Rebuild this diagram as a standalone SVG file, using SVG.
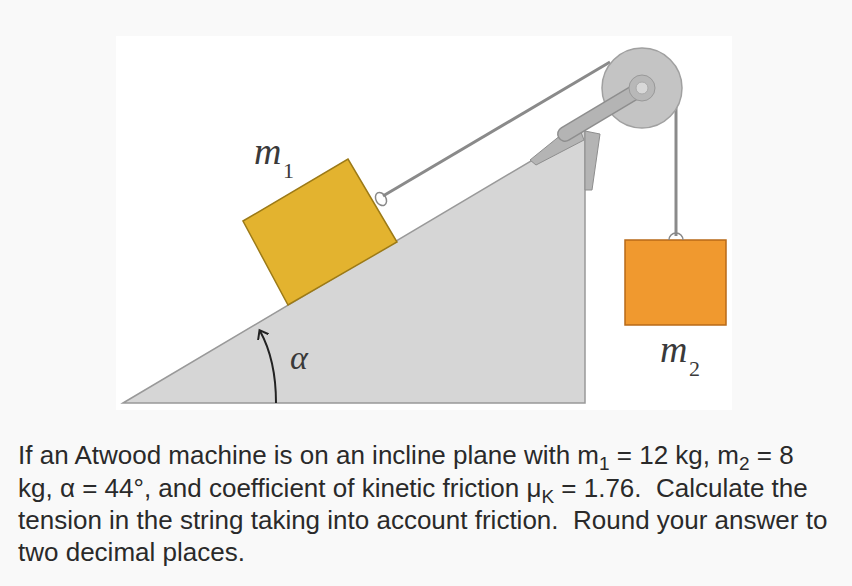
<svg xmlns="http://www.w3.org/2000/svg" width="852" height="586" viewBox="0 0 852 586">
<style>
.t{font-family:"Liberation Sans",Arial,sans-serif;font-size:26px;fill:#2a2a2a;white-space:pre}
.lab{font-family:"Liberation Serif","Times New Roman",serif;font-style:italic;fill:#3a3a3a}
.sub{font-family:"Liberation Serif","Times New Roman",serif;fill:#3a3a3a;font-size:22px}
.g{fill:#b4b4b4;stroke:#8e8e8e;stroke-width:1}
</style>
<defs><marker id="ah" markerWidth="14" markerHeight="14" refX="7" refY="7" orient="auto" markerUnits="userSpaceOnUse"><path d="M0,1 L8,7 L0,13" fill="none" stroke="#222" stroke-width="2"/></marker></defs>
<rect width="852" height="586" fill="#f9f9f9"/>
<rect x="116" y="36" width="616" height="374" fill="#fff"/>
<g id="incline"><polygon points="123,403 585,129 585,403" fill="#d6d6d6" stroke="#999" stroke-width="1.5"/></g>
<g id="connectors">
<line x1="383" y1="196" x2="610" y2="62" stroke="#8a8a8a" stroke-width="3"/>
<line x1="676" y1="88" x2="676" y2="236" stroke="#8a8a8a" stroke-width="3"/>
<path d="M276,403 Q276,360 260,331" fill="none" stroke="#222" stroke-width="2" marker-end="url(#ah)"/>
</g>
<g id="bracket">
<polygon class="g" points="530,160 577,122 584,140 536,165"/>
<polygon class="g" points="585,131 600,134 592,190 585,190"/>
</g>
<g id="pulley">
<circle cx="642" cy="88" r="40" fill="#c4c4c4" stroke="#a0a0a0" stroke-width="1.5"/>
<line x1="565" y1="134" x2="642" y2="88" stroke="#8e8e8e" stroke-width="16" stroke-linecap="round"/>
<line x1="565" y1="134" x2="642" y2="88" stroke="#b4b4b4" stroke-width="13" stroke-linecap="round"/>
<circle cx="642" cy="88" r="13" fill="#b8b8b8" stroke="#999"/>
<circle cx="642" cy="88" r="6" fill="#d8d8d8" stroke="#aaa"/>
</g>
<g id="m1">
<polygon points="243,221 348,159 397,242 288,305" fill="#e3b32f" stroke="#9c7a17" stroke-width="1.5"/>
<ellipse cx="381" cy="199" rx="5" ry="7" transform="rotate(-30 381 199)" fill="none" stroke="#888" stroke-width="1.5"/>
<text class="lab" x="254" y="164" font-size="38">m</text><text class="sub" x="283" y="178">1</text>
</g>
<g id="m2">
<rect x="625" y="240" width="101" height="85" fill="#f0992f" stroke="#b86a18" stroke-width="1.5"/>
<path d="M669,240 A7,7 0 0 1 683,240" fill="none" stroke="#888" stroke-width="1.5"/>
<text class="lab" x="660" y="362" font-size="38">m</text><text class="sub" x="689" y="376">2</text>
</g>
<g id="alpha"><text class="lab" x="290" y="369" font-size="34">α</text></g>
<g id="text">
<text class="t" x="18" y="464">If an Atwood machine is on an incline plane with m<tspan font-size="19" dy="6">1</tspan><tspan dy="-6"> = 12 kg, m</tspan><tspan font-size="19" dy="6">2</tspan><tspan dy="-6"> = 8</tspan></text>
<text class="t" x="18" y="497">kg, α = 44°, and coefficient of kinetic friction μ<tspan font-size="19" dy="6">K</tspan><tspan dy="-6"> = 1.76.  Calculate the</tspan></text>
<text class="t" x="18" y="529">tension in the string taking into account friction.  Round your answer to</text>
<text class="t" x="18" y="561">two decimal places.</text>
</g>
</svg>
